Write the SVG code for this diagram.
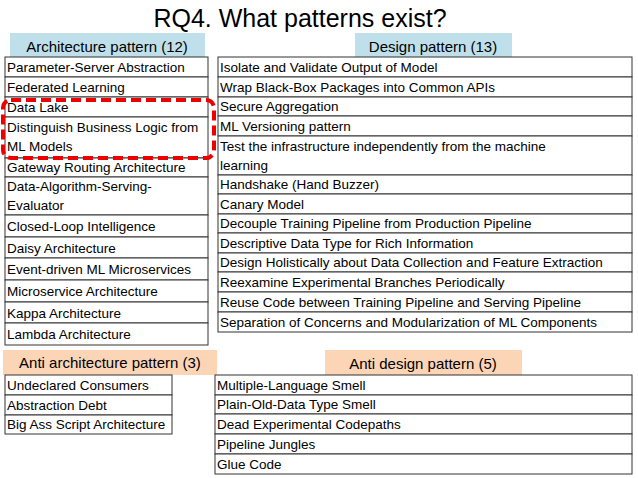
<svg xmlns="http://www.w3.org/2000/svg" width="638" height="478" viewBox="0 0 638 478">
<style>
.c{fill:#fff;stroke:#333;stroke-width:1}
.t{font-family:"Liberation Sans",Arial,sans-serif;font-size:13.5px;fill:#000}
.h{font-family:"Liberation Sans",Arial,sans-serif;font-size:15px;fill:#000}
.hb{fill:#bfe0ea}
.ho{fill:#fbd5b5}
</style>
<rect width="638" height="478" fill="#fff"/>
<text x="300" y="27" text-anchor="middle" font-family="Liberation Sans,Arial,sans-serif" font-size="25">RQ4. What patterns exist?</text>
<g id="hdr-arch"><rect class="hb" x="10" y="33" width="195" height="25"/><text class="h" x="107" y="52" text-anchor="middle">Architecture pattern  (12)</text></g>
<g id="hdr-design"><rect class="hb" x="355" y="33" width="157" height="25"/><text class="h" x="433" y="52" text-anchor="middle">Design pattern (13)</text></g>
<g id="hdr-antiarch"><rect class="ho" x="3" y="350" width="214" height="25"/><text class="h" x="110" y="368" text-anchor="middle">Anti architecture pattern (3)</text></g>
<g id="hdr-antidesign"><rect class="ho" x="325" y="350" width="197" height="25"/><text class="h" x="423" y="369" text-anchor="middle">Anti design pattern (5)</text></g>
<g id="arch">
<rect class="c" x="5" y="57" width="203" height="20"/><text class="t" x="7" y="72">Parameter-Server Abstraction</text>
<rect class="c" x="5" y="77" width="203" height="20"/><text class="t" x="7" y="92">Federated Learning</text>
<rect class="c" x="5" y="97" width="203" height="20"/><text class="t" x="7" y="112">Data Lake</text>
<rect class="c" x="5" y="117" width="203" height="41"/><text class="t" x="7" y="132">Distinguish Business Logic from</text><text class="t" x="7" y="151">ML Models</text>
<rect class="c" x="5" y="158" width="203" height="19"/><text class="t" x="7" y="172">Gateway Routing Architecture</text>
<rect class="c" x="5" y="177" width="203" height="38"/><text class="t" x="7" y="191">Data-Algorithm-Serving-</text><text class="t" x="7" y="210">Evaluator</text>
<rect class="c" x="5" y="215" width="203" height="22"/><text class="t" x="7" y="231">Closed-Loop Intelligence</text>
<rect class="c" x="5" y="237" width="203" height="21"/><text class="t" x="7" y="253">Daisy Architecture</text>
<rect class="c" x="5" y="258" width="203" height="22"/><text class="t" x="7" y="274">Event-driven ML Microservices</text>
<rect class="c" x="5" y="280" width="203" height="22"/><text class="t" x="7" y="296">Microservice Architecture</text>
<rect class="c" x="5" y="302" width="203" height="21"/><text class="t" x="7" y="318">Kappa Architecture</text>
<rect class="c" x="5" y="323" width="203" height="22"/><text class="t" x="7" y="339">Lambda Architecture</text>
</g>
<g id="design">
<rect class="c" x="218" y="57" width="414" height="20"/><text class="t" x="220" y="72">Isolate and Validate Output of Model</text>
<rect class="c" x="218" y="77" width="414" height="20"/><text class="t" x="220" y="92">Wrap Black-Box Packages into Common APIs</text>
<rect class="c" x="218" y="97" width="414" height="19"/><text class="t" x="220" y="111">Secure Aggregation</text>
<rect class="c" x="218" y="116" width="414" height="20"/><text class="t" x="220" y="131">ML Versioning pattern</text>
<rect class="c" x="218" y="136" width="414" height="39"/><text class="t" x="220" y="151">Test the infrastructure independently from the machine</text><text class="t" x="220" y="170">learning</text>
<rect class="c" x="218" y="175" width="414" height="19"/><text class="t" x="220" y="189">Handshake (Hand Buzzer)</text>
<rect class="c" x="218" y="194" width="414" height="20"/><text class="t" x="220" y="209">Canary Model</text>
<rect class="c" x="218" y="214" width="414" height="19"/><text class="t" x="220" y="228">Decouple Training Pipeline from Production Pipeline</text>
<rect class="c" x="218" y="233" width="414" height="20"/><text class="t" x="220" y="248">Descriptive Data Type for Rich Information</text>
<rect class="c" x="218" y="253" width="414" height="19"/><text class="t" x="220" y="267">Design Holistically about Data Collection and Feature Extraction</text>
<rect class="c" x="218" y="272" width="414" height="20"/><text class="t" x="220" y="287">Reexamine Experimental Branches Periodically</text>
<rect class="c" x="218" y="292" width="414" height="20"/><text class="t" x="220" y="307">Reuse Code between Training Pipeline and Serving Pipeline</text>
<rect class="c" x="218" y="312" width="414" height="20"/><text class="t" x="220" y="327">Separation of Concerns and Modularization of ML Components</text>
</g>
<g id="antiarch">
<rect class="c" x="5" y="375" width="167" height="20"/><text class="t" x="7" y="390">Undeclared Consumers</text>
<rect class="c" x="5" y="395" width="167" height="20"/><text class="t" x="7" y="410">Abstraction Debt</text>
<rect class="c" x="5" y="415" width="167" height="19"/><text class="t" x="7" y="429">Big Ass Script Architecture</text>
</g>
<g id="antidesign">
<rect class="c" x="215" y="375" width="417" height="20"/><text class="t" x="217" y="390">Multiple-Language Smell</text>
<rect class="c" x="215" y="395" width="417" height="19"/><text class="t" x="217" y="409">Plain-Old-Data Type Smell</text>
<rect class="c" x="215" y="414" width="417" height="20"/><text class="t" x="217" y="429">Dead Experimental Codepaths</text>
<rect class="c" x="215" y="434" width="417" height="20"/><text class="t" x="217" y="449">Pipeline Jungles</text>
<rect class="c" x="215" y="454" width="417" height="20"/><text class="t" x="217" y="469">Glue Code</text>
</g>
<g id="highlight"><rect x="3" y="100" width="211" height="58" rx="8" fill="none" stroke="#e00" stroke-width="4" stroke-dasharray="10,5"/></g>
</svg>
